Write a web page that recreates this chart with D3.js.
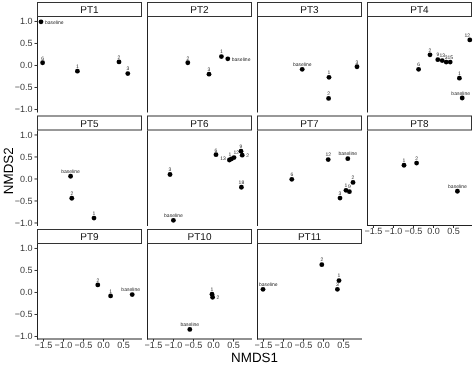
<!DOCTYPE html>
<html>
<head>
<meta charset="utf-8">
<script src="https://cdn.jsdelivr.net/npm/d3@7"></script>
<style>
  html, body { margin: 0; padding: 0; background: #fff; }
  svg { display: block; font-family: "Liberation Sans", Arial, sans-serif; will-change: transform; }
  svg text { -webkit-font-smoothing: antialiased; text-rendering: geometricPrecision; }
</style>
</head>
<body>
<svg id="chart" width="474" height="368"></svg>
<script>
// ---- data ----
const panelNames = ["PT1","PT2","PT3","PT4","PT5","PT6","PT7","PT8","PT9","PT10","PT11"];
const pointLabels = [
  ["baseline","6","1","2","3"],
  ["2","3","1","baseline"],
  ["baseline","1","2","3"],
  ["12","2","9","13","3","15","1","6","baseline"],
  ["baseline","2","1"],
  ["3","baseline","6","13","1","12","9","2","18"],
  ["6","12","baseline","2","1","9","3"],
  ["1","2","baseline"],
  ["2","1","baseline"],
  ["1","2","baseline"],
  ["baseline","2","1","3"]
];
const nmds1 = [
  [-1.55,-1.51,-0.64,0.40,0.62],
  [-0.63,-0.10,0.21,0.37],
  [-0.52,0.15,0.14,0.85],
  [0.92,-0.075,0.12,0.23,0.33,0.43,0.66,-0.36,0.73],
  [-0.81,-0.78,-0.225],
  [-1.075,-0.99,0.075,0.41,0.46,0.525,0.70,0.73,0.71],
  [-0.78,0.13,0.62,0.75,0.575,0.66,0.425],
  [-0.725,-0.41,0.61],
  [-0.13,0.19,0.73],
  [-0.025,-0.01,-0.58],
  [-1.50,-0.03,0.40,0.36]
];
const nmds2 = [
  [0.98,0.05,-0.14,0.07,-0.195],
  [0.05,-0.21,0.19,0.14],
  [-0.10,-0.28,-0.76,-0.04],
  [0.57,0.23,0.12,0.10,0.065,0.065,-0.30,-0.10,-0.75],
  [0.05,-0.45,-0.90],
  [0.09,-0.95,0.54,0.42,0.445,0.475,0.62,0.53,-0.20],
  [-0.02,0.43,0.45,-0.09,-0.27,-0.30,-0.445],
  [0.30,0.35,-0.29],
  [0.16,-0.09,-0.06],
  [-0.05,-0.12,-0.85],
  [0.06,0.62,0.26,0.06]
];
const xTicks = [-1.5,-1.0,-0.5,0.0,0.5];
const yTicks = [-1.0,-0.5,0.0,0.5,1.0];
const xTitle = "NMDS1";
const yTitle = "NMDS2";
// label placement hints (repelled labels)
const labelSide = {"PT1:baseline":"right","PT2:baseline":"right","PT6:13":"left","PT6:1":"topleft","PT6:12":"topright","PT6:2":"right","PT10:2":"right"};

// ---- layout ----
const svg = d3.select("#chart");
const nCols = 4;
const leftM = 37, topM = 2;
const panelW = 105, colGap = 5;
const stripH = 15, panelH = 95.5, rowGap = 3;
const xDomain = [-1.65, 0.975];
const yDomain = [-1.08, 1.09];
const fmt = d => d3.format(".1f")(d).replace("-", "\u2212");

const nRows = Math.ceil(panelNames.length / nCols);

panelNames.forEach((name, i) => {
  const col = i % nCols, row = Math.floor(i / nCols);
  const x0 = leftM + col * (panelW + colGap);
  const sy = topM + row * (stripH + panelH + rowGap);
  const py = sy + stripH;
  const g = svg.append("g");

  const xs = d3.scaleLinear().domain(xDomain).range([x0, x0 + panelW]);
  const ys = d3.scaleLinear().domain(yDomain).range([py + panelH, py]);

  // strip
  g.append("rect").attr("x", x0 + 0.5).attr("y", sy + 0.5)
    .attr("width", panelW - 1).attr("height", stripH - 1)
    .attr("fill", "#fff").attr("stroke", "#333").attr("stroke-width", 1);
  g.append("text").attr("x", x0 + panelW / 2).attr("y", sy + stripH / 2 + 3.6)
    .attr("text-anchor", "middle").attr("font-size", 10).attr("fill", "#111").text(name);

  // left line for every panel
  g.append("line").attr("x1", x0 + 0.5).attr("x2", x0 + 0.5)
    .attr("y1", py).attr("y2", py + panelH).attr("stroke", "#222").attr("stroke-width", 1);

  // y axis on first column
  if (col === 0) {
    const ya = d3.axisLeft(ys).tickValues(yTicks).tickSize(3).tickPadding(2).tickFormat(fmt);
    const ag = g.append("g").attr("transform", `translate(${x0 + 0.5},0)`).call(ya);
    ag.select(".domain").remove();
    ag.selectAll(".tick line").attr("stroke", "#333");
    ag.selectAll(".tick text").attr("font-size", 9).attr("fill", "#3a3a3a")
      .attr("font-family", "Liberation Sans, Arial, sans-serif");
  }
  // x axis on bottom-most panel of each column
  const isBottom = (i + nCols) >= panelNames.length;
  if (isBottom) {
    const xa = d3.axisBottom(xs).tickValues(xTicks).tickSize(2.5).tickPadding(0).tickFormat(fmt);
    const ag = g.append("g").attr("transform", `translate(0,${py + panelH - 0.5})`).call(xa);
    ag.select(".domain").remove();
    g.append("line").attr("x1", x0).attr("x2", x0 + panelW)
      .attr("y1", py + panelH - 0.5).attr("y2", py + panelH - 0.5).attr("stroke", "#222");
    ag.selectAll(".tick line").attr("stroke", "#333");
    ag.selectAll(".tick text").attr("font-size", 9).attr("fill", "#3a3a3a")
      .attr("font-family", "Liberation Sans, Arial, sans-serif");
  }

  // points
  const pts = pointLabels[i].map((lab, k) => ({lab, x: nmds1[i][k], y: nmds2[i][k]}));
  g.selectAll("circle").data(pts).join("circle")
    .attr("cx", d => xs(d.x)).attr("cy", d => ys(d.y)).attr("r", 2.4).attr("fill", "#000");

  // labels
  g.selectAll("text.lab").data(pts).join("text").attr("class", "lab")
    .attr("font-size", 5).attr("fill", "#222")
    .each(function(d) {
      const side = labelSide[name + ":" + d.lab] || "top";
      const cx = xs(d.x), cy = ys(d.y);
      const t = d3.select(this).text(d.lab);
      if (side === "right") {
        t.attr("x", cx + 4).attr("y", cy + 1.7).attr("text-anchor", "start");
      } else if (side === "left") {
        t.attr("x", cx - 3.5).attr("y", cy + 0.5).attr("text-anchor", "end");
      } else if (side === "topleft") {
        t.attr("x", cx).attr("y", cy - 3.2).attr("text-anchor", "end");
      } else if (side === "topright") {
        t.attr("x", cx - 0.5).attr("y", cy - 3.6).attr("text-anchor", "start");
      } else {
        const w = this.getComputedTextLength();
        let lx = cx - w / 2;
        lx = Math.max(x0 + 2, Math.min(x0 + panelW - 2 - w, lx));
        t.attr("x", lx).attr("y", cy - 3.2).attr("text-anchor", "start");
      }
    });
});

// axis titles
const gridBottom = topM + nRows * (stripH + panelH) + (nRows - 1) * rowGap;
const gridRight = leftM + nCols * panelW + (nCols - 1) * colGap;
svg.append("text").attr("x", (leftM + gridRight) / 2).attr("y", 361.5)
  .attr("text-anchor", "middle").attr("font-size", 13.4).attr("fill", "#000").text(xTitle);
svg.append("text").attr("transform", `translate(12.5,${(topM + gridBottom) / 2}) rotate(-90)`)
  .attr("text-anchor", "middle").attr("font-size", 13.4).attr("fill", "#000").text(yTitle);
</script>
</body>
</html>
